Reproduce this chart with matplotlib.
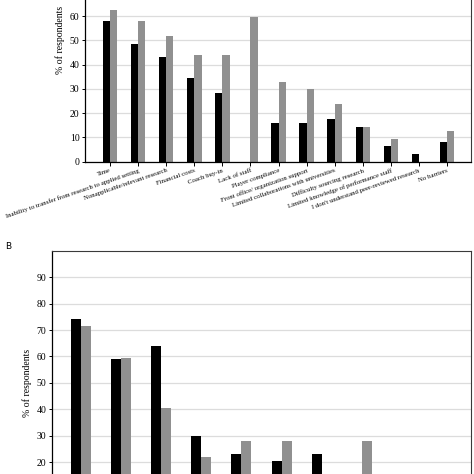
import numpy as np
import matplotlib
matplotlib.use("Agg")
import matplotlib.pyplot as plt

plt.rcParams['font.family'] = ['Liberation Serif', 'DejaVu Serif']

# Panel A: barriers
a_labels = ["Time",
            "Inability to transfer from research to applied setting",
            "Nonapplicable/relevant research",
            "Financial costs",
            "Coach buy-in",
            "Lack of staff",
            "Player compliance",
            "Front office/ organization support",
            "Limited collaborations with universities",
            "Difficulty sourcing research",
            "Limited knowledge of performance staff",
            "I don't understand peer-reviewed research",
            "No barriers"]
a_black = [57.9, 48.5, 43.2, 34.3, 28.2, 0.0, 15.8, 15.8, 17.5, 14.3, 6.6, 3.3, 8.0]
a_gray = [62.5, 57.8, 51.6, 43.8, 43.8, 59.5, 32.8, 29.8, 23.6, 14.3, 9.5, 0.0, 12.5]

# Panel B (lower part and category names cropped in the reference)
b_groups = np.arange(10)
b_black = [74.3, 58.9, 63.9, 29.8, 22.9, 20.5, 22.9, 10.0, 8.0, 5.0]
b_gray = [71.6, 59.3, 40.5, 21.8, 28.0, 28.0, 12.0, 28.0, 10.0, 6.0]

black = "#000000"
gray = "#909090"
gridc = "#dcdcdc"
spinec = "#3a3a3a"

fig = plt.figure(figsize=(4.74, 4.74), dpi=100)


def style_axes(ax, yticks):
    ax.set_ylim(0, 100)
    ax.set_yticks(yticks)
    ax.yaxis.grid(True, color=gridc, lw=0.9)
    ax.set_axisbelow(True)
    ax.tick_params(axis='y', labelsize=7, length=2.5, width=0.7, pad=1.5)
    ax.tick_params(axis='x', length=3, width=0.7)
    for s in ["top", "right"]:
        ax.spines[s].set_color(spinec)
        ax.spines[s].set_linewidth(0.8)
    for s in ["left", "bottom"]:
        ax.spines[s].set_color("black")
        ax.spines[s].set_linewidth(0.9)
    ax.set_ylabel("% of respondents", fontsize=7, labelpad=3)


# --- Panel A ---
axA = fig.add_axes([85 / 474, 312.3 / 474, 385.7 / 474, 242.8 / 474])
xa = np.arange(len(a_labels))
wa = 0.26
axA.bar(xa - wa / 2, a_black, wa, color=black)
axA.bar(xa + wa / 2, a_gray, wa, color=gray)
axA.set_xlim(-0.89, len(a_labels) - 1 + 0.84)
style_axes(axA, np.arange(0, 70, 10))
axA.set_xticks(xa)
axA.set_xticklabels(a_labels, rotation=19, ha='right', rotation_mode='anchor',
                    fontsize=4.9)
axA.tick_params(axis='x', pad=1.5)

# --- Panel B ---
axB = fig.add_axes([52 / 474, -40.8 / 474, 419 / 474, 264 / 474])
wb = 0.25
axB.bar(b_groups - wb / 2, b_black, wb, color=black)
axB.bar(b_groups + wb / 2, b_gray, wb, color=gray)
axB.set_xlim(-0.72, len(b_groups) - 1 + 0.72)
style_axes(axB, np.arange(20, 100, 10))
axB.set_xticks(b_groups)
axB.set_xticklabels([])

fig.text(5 / 474, 1 - 249 / 474, "B", fontsize=6.5, family="DejaVu Sans",
         ha='left', va='baseline')

fig.savefig("out.png", dpi=100)
